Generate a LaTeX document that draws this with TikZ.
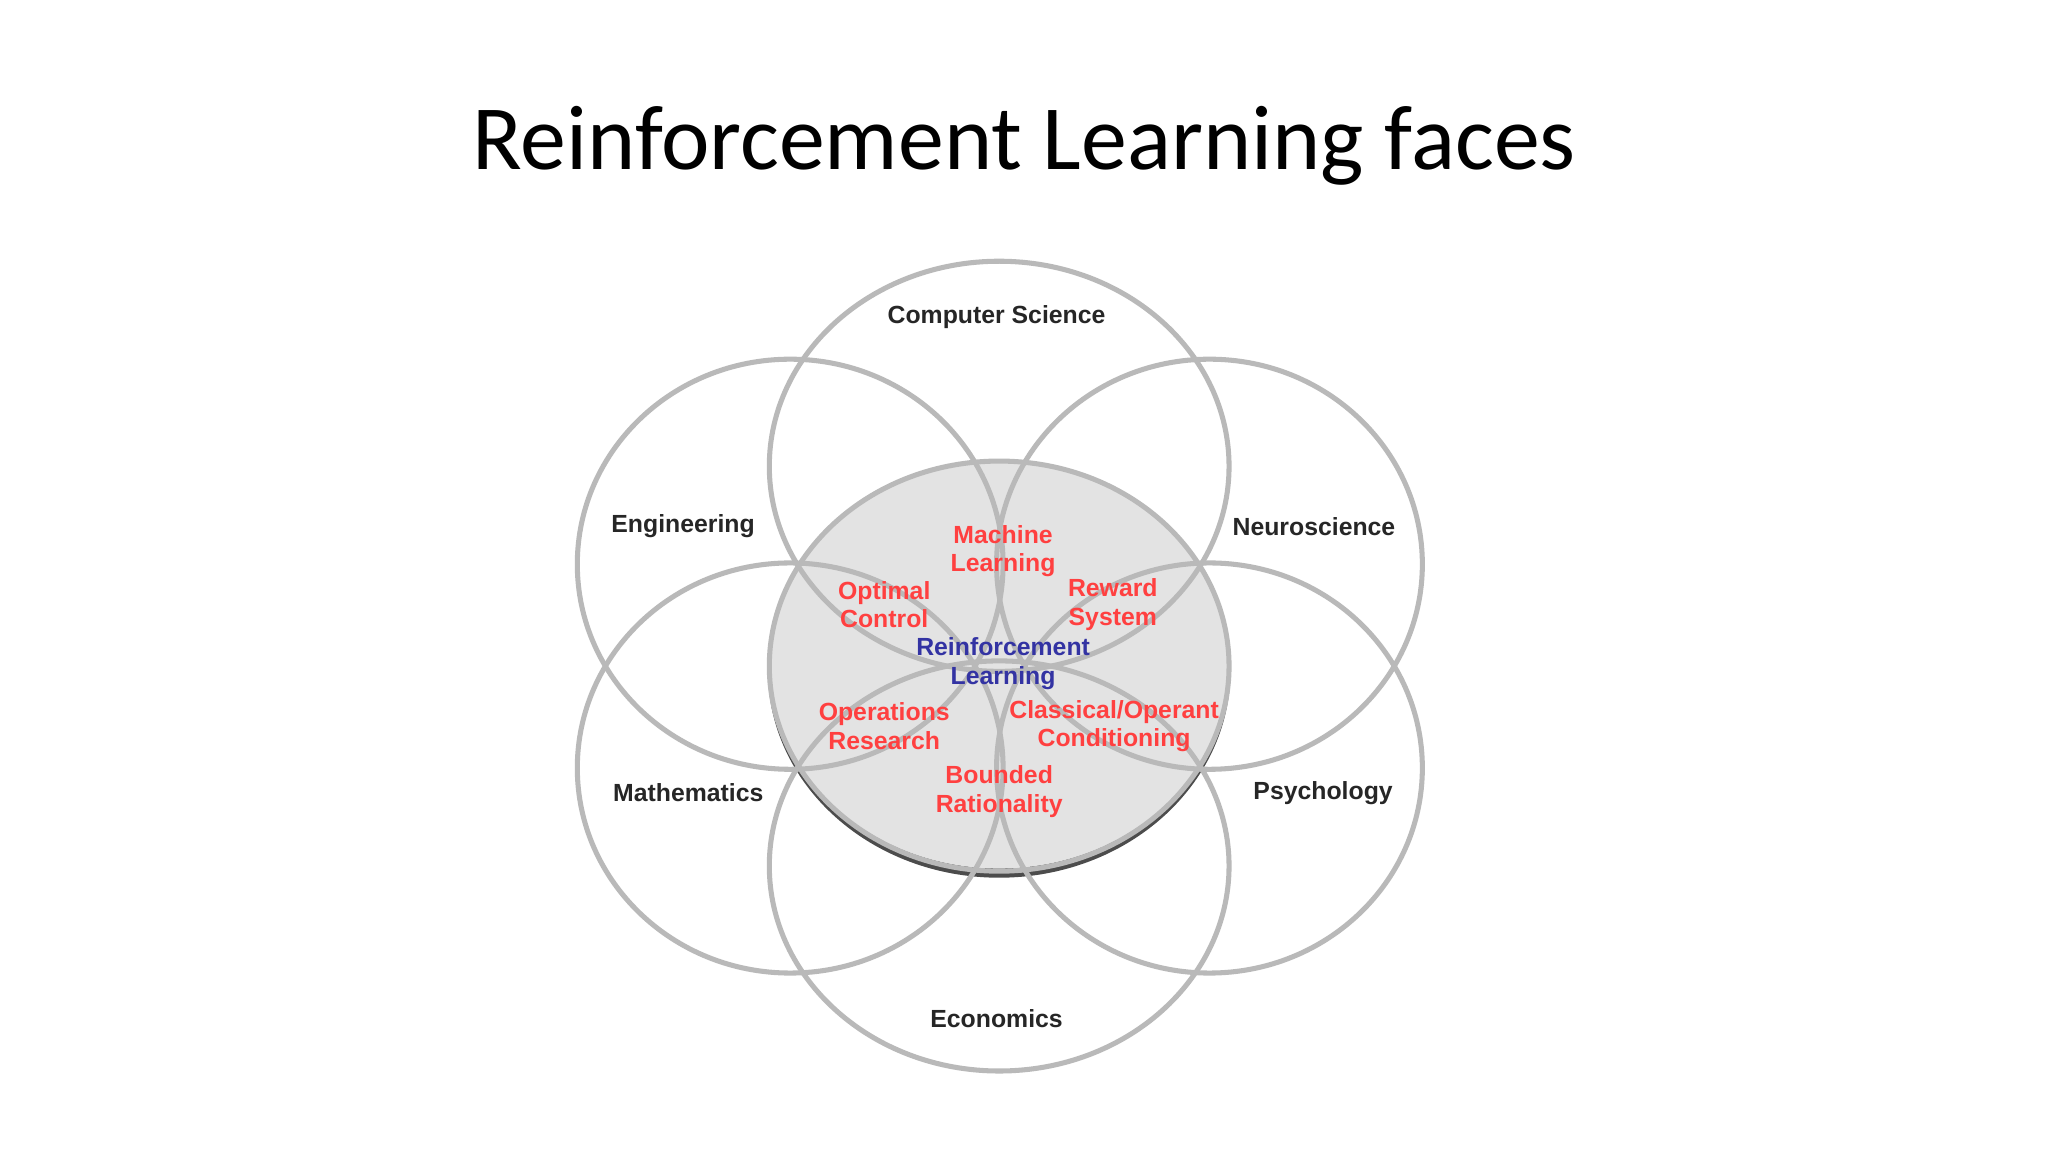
\documentclass[tikz,border=0pt]{standalone}
\usepackage{fontspec}
\setmainfont{Carlito}
\newfontfamily\lab{Liberation Sans}
\begin{document}
\begin{tikzpicture}[x=0.01cm,y=-0.01cm,
 ring/.style={draw=gray!55,line width=1.1pt},
 outer/.style={font=\lab\bfseries\fontsize{5.4}{6}\selectfont,text=black!85},
 inner/.style={font=\lab\bfseries\fontsize{5.4}{6.2}\selectfont,text=red!75!white,align=center},
 core/.style={font=\lab\bfseries\fontsize{5.4}{6.2}\selectfont,text=blue!55!black!80,align=center}]
\useasboundingbox (0,0) rectangle (1568,882);
\fill[white] (0,0) rectangle (1568,882);
\node[font=\fontsize{20}{24}\selectfont] (title) at (784,112) {Reinforcement Learning faces};
% shadow + fill of center
\fill[black!70] (765,514) ellipse [x radius=177,y radius=158];
\fill[gray!22] (765,509) ellipse [x radius=176,y radius=156];
\foreach \p in {(765,510),(765,357),(765,663)}
  \draw[ring] \p ellipse [x radius=176,y radius=157];
\foreach \p in {(605,432),(605,588),(926,432),(926,588)}
  \draw[ring] \p ellipse [x radius=163,y radius=157];
\node[outer] (cs) at (763,243) {Computer Science};
\node[outer] (eng) at (523,403) {Engineering};
\node[outer] (neu) at (1006,403) {Neuroscience};
\node[outer] (math) at (527,607) {Mathematics};
\node[outer] (psy) at (1013,607) {Psychology};
\node[outer] (eco) at (763,780) {Economics};
\node[inner] (ml) at (768,422) {Machine\\Learning};
\node[inner] (oc) at (677,463) {Optimal\\Control};
\node[inner] (rs) at (852,463) {Reward\\System};
\node[core] (rl) at (768,508) {Reinforcement\\Learning};
\node[inner] (or) at (677,556) {Operations\\Research};
\node[inner] (co) at (853,556) {Classical/Operant\\Conditioning};
\node[inner] (br) at (765,606) {Bounded\\Rationality};
\end{tikzpicture}
\end{document}
